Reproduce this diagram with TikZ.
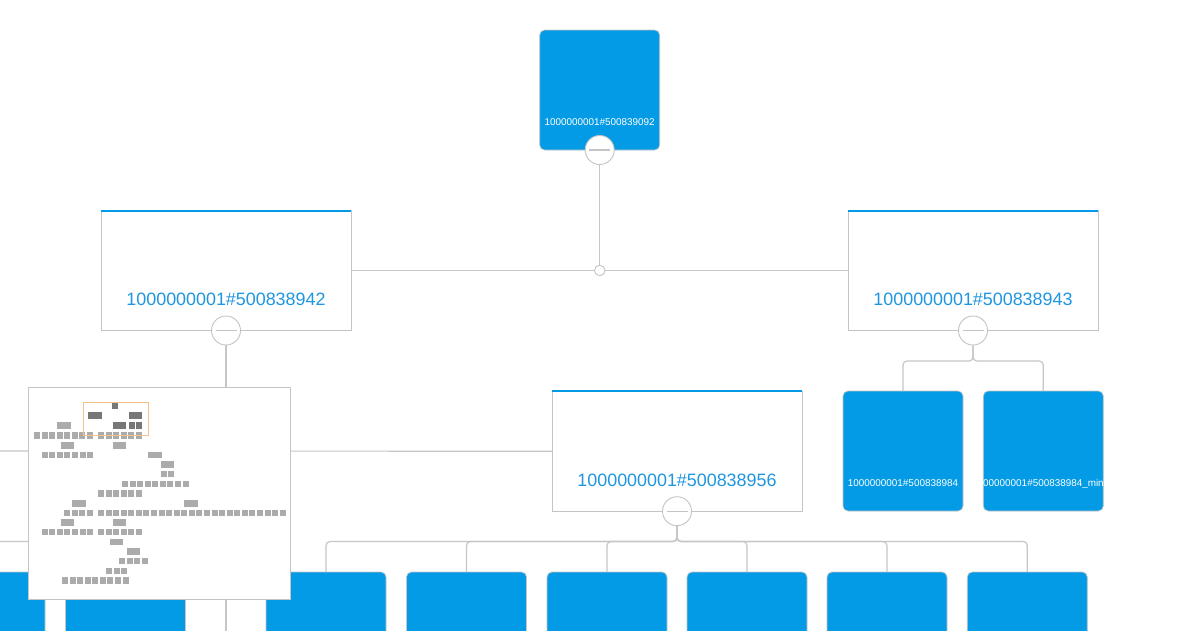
\documentclass[tikz,border=0pt]{standalone}
\usepackage{fontspec}
\setmainfont{Liberation Sans}
\definecolor{nodeblue}{HTML}{039BE5}
\definecolor{lblblue}{HTML}{1F96E0}
\definecolor{linegray}{HTML}{C6C6C6}
\definecolor{boxgray}{HTML}{C4C4C4}
\definecolor{mmlight}{HTML}{ABABAB}
\definecolor{mmdark}{HTML}{777777}
\definecolor{mmorange}{HTML}{F5C08A}
\newcommand\mmsquares[4]{\foreach \i in {1,...,#3}{\fill[#4] ({#1+(\i-1)*7.57},#2) rectangle ++(6,6.3);}}
\newcommand\mmwide[3]{\fill[#3] (#1,#2) rectangle ++(13.6,6.5);}
\begin{document}
\begin{tikzpicture}[x=1pt,y=-1pt,
 bluebox/.style={rectangle, rounded corners=5pt, fill=nodeblue, draw=boxgray, line width=0.7pt, minimum width=120pt, minimum height=120pt, inner sep=0pt, outer sep=0pt},
 whitebox/.style={rectangle, fill=white, draw=boxgray, line width=0.9pt, minimum width=250pt, minimum height=120pt, inner sep=0pt, outer sep=0pt},
 topline/.style={draw=nodeblue, line width=2pt},
 conn/.style={draw=linegray, line width=1.2pt},
 togglec/.style={circle, fill=white, draw=boxgray, line width=0.9pt, minimum size=29pt, inner sep=0pt,
   path picture={\draw[boxgray, line width=1.2pt] ([xshift=-10.5pt]path picture bounding box.center) -- ([xshift=10.5pt]path picture bounding box.center);}},
 juncc/.style={circle, fill=white, draw=boxgray, line width=0.9pt, minimum size=10.5pt, inner sep=0pt},
 whitelbl/.style={text=white, font=\fontsize{9.9}{12}\selectfont, inner sep=0pt, anchor=base},
 bluelbl/.style={text=lblblue, font=\fontsize{17.9}{21}\selectfont, inner sep=0pt, anchor=base},
 minimap/.style={rectangle, draw=boxgray, fill=white, line width=0.9pt, minimum width=262pt, minimum height=212pt, inner sep=0pt},
]
\clip (0,0) rectangle (1200,630);
\fill[white] (0,0) rectangle (1200,630);

% ---------- boxes ----------
\node[bluebox] (top) at (599.7,90) {};
\node[whitelbl] (toplbl) at ([yshift=24.5pt]top.south) {1000000001\#500839092};

\node[whitebox] (L1) at (226,270.5) {};
\draw[topline] (L1.north west) -- (L1.north east);
\node[bluelbl] (L1lbl) at ([yshift=24.7pt]L1.south) {1000000001\#500838942};

\node[whitebox] (R1) at (973,270.5) {};
\draw[topline] (R1.north west) -- (R1.north east);
\node[bluelbl] (R1lbl) at ([yshift=24.7pt]R1.south) {1000000001\#500838943};

\node[whitebox] (M) at (677,451.2) {};
\draw[topline] (M.north west) -- (M.north east);
\node[bluelbl] (Mlbl) at ([yshift=24.7pt]M.south) {1000000001\#500838956};

\node[bluebox] (RC1) at (903,451) {};
\node[whitelbl] (RC1lbl) at ([yshift=24.3pt]RC1.south) {1000000001\#500838984};
\node[bluebox] (RC2) at (1043.3,451) {};
\begin{scope}
\clip (RC2.south west) rectangle (RC2.north east);
\node[whitelbl, anchor=base west] (RC2lbl) at (972,486.8) {1000000001\#500838984\_min};
\end{scope}

\node[bluebox] (BL1) at (-15,632) {};
\node[bluebox] (BL2) at (125.5,632) {};
\node[bluebox] (B1) at (326,632) {};
\node[bluebox] (B2) at (466.5,632) {};
\node[bluebox] (B3) at (607,632) {};
\node[bluebox] (B4) at (747,632) {};
\node[bluebox] (B5) at (887,632) {};
\node[bluebox] (B6) at (1027.3,632) {};

% ---------- toggles ----------
\node[togglec] (topt) at (top.south) {};
\node[togglec] (L1t) at (L1.south) {};
\node[togglec] (R1t) at (R1.south) {};
\node[togglec] (Mt) at (M.south) {};
\node[juncc] (junc) at (599.7,270.5) {};

% ---------- coordinates ----------
\coordinate (rfork) at (973,361);
\coordinate (mfork) at (677,541.5);
\coordinate (lj) at (226,451);
\coordinate (lfar) at (-5,451);
\coordinate (lfork2) at (226,541.5);
\coordinate (lbot) at (226,640);

% ---------- connectors ----------
\draw[conn] (topt.south) -- (junc.north);
\draw[conn] (L1.east) -- (junc.west);
\draw[conn] (junc.east) -- (R1.west);
\draw[conn, rounded corners=4pt] (RC1.north) |- (rfork) -- (R1t.south);
\draw[conn, rounded corners=4pt] (RC2.north) |- (rfork) -- (R1t.south);
\foreach \b in {B1,B2,B3,B4,B5,B6}{
  \draw[conn, rounded corners=4pt] (\b.north) |- (mfork) -- (Mt.south);
}
\draw[conn] (L1t.south) -- (lj);
\draw[conn] (lfar) -- (M.west);
\draw[conn, rounded corners=4pt] (BL1.north) |- (lfork2);
\draw[conn, rounded corners=4pt] (BL2.north) |- (lfork2);
\draw[conn] (lfork2) -- (lbot);

% ---------- minimap ----------
\node[minimap] (mm) at (159,493) {};
\mmsquares{112.3}{402.7}{1}{mmdark}
\mmwide{88.3}{412.3}{mmdark}
\mmwide{128.7}{412.3}{mmdark}
\mmwide{57}{422.3}{mmlight}
\mmwide{112.7}{422.3}{mmdark}
\mmsquares{128.7}{422.3}{2}{mmdark}
\mmsquares{34}{432.3}{8}{mmlight}
\mmsquares{98}{432.3}{6}{mmlight}
\mmwide{60.7}{442}{mmlight}
\mmwide{112.7}{442}{mmlight}
\mmsquares{41.7}{451.7}{7}{mmlight}
\mmwide{148.3}{451.7}{mmlight}
\mmwide{160.7}{461.3}{mmlight}
\mmsquares{160.7}{471}{2}{mmlight}
\mmsquares{122}{480.7}{9}{mmlight}
\mmsquares{98}{490.3}{6}{mmlight}
\mmwide{72}{500}{mmlight}
\mmwide{184.3}{500}{mmlight}
\mmsquares{64.3}{509.7}{4}{mmlight}
\mmsquares{98}{509.7}{25}{mmlight}
\mmwide{60.7}{519.3}{mmlight}
\mmwide{112.7}{519.3}{mmlight}
\mmsquares{41.7}{529}{7}{mmlight}
\mmsquares{98}{529}{6}{mmlight}
\mmwide{109.7}{538.7}{mmlight}
\mmwide{126.7}{548.3}{mmlight}
\mmsquares{119}{558}{4}{mmlight}
\mmsquares{106}{567.7}{3}{mmlight}
\mmsquares{62}{577.3}{9}{mmlight}
\draw[mmorange, line width=0.9pt] (83,402) rectangle (148,435);
\end{tikzpicture}
\end{document}
